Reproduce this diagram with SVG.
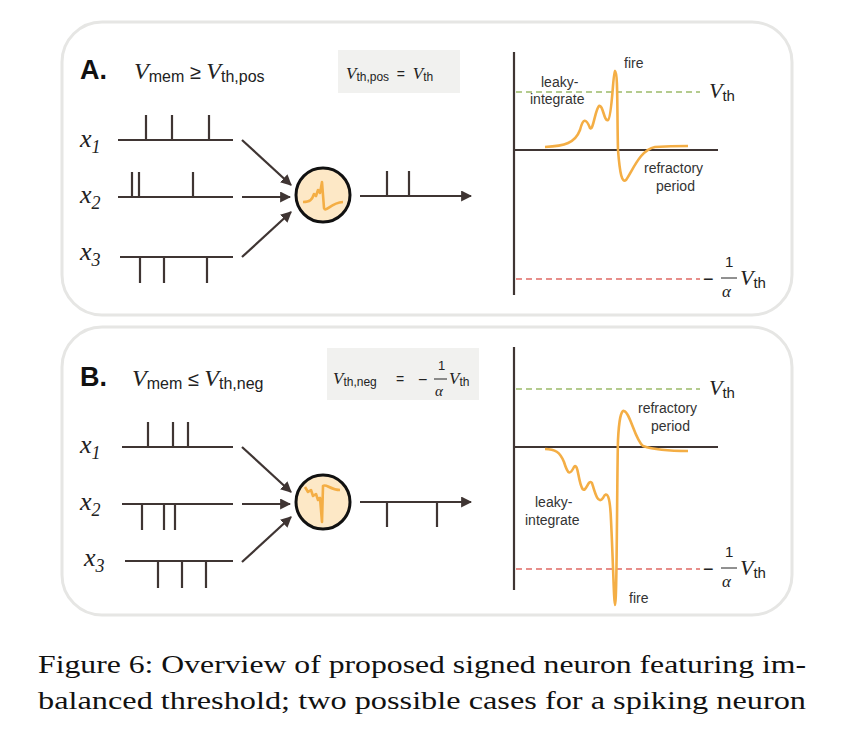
<svg xmlns="http://www.w3.org/2000/svg" width="865" height="745" viewBox="0 0 865 745">
<defs>
<marker id="ah" viewBox="0 0 10 10" refX="9" refY="5" markerWidth="11" markerHeight="11" markerUnits="userSpaceOnUse" orient="auto"><path d="M0,0 L10,5 L0,10 z" fill="#3f3533"/></marker>
<style>
.panel{fill:#fff;stroke:#e6e6e4;stroke-width:3}
.ln{stroke:#3f3533;stroke-width:2.2;fill:none}
.ar{stroke:#3f3533;stroke-width:2.2;fill:none}
.cur{stroke:#f4ae45;stroke-width:2.6;fill:none;stroke-linejoin:round}
.lab{font-size:14px;fill:#333}
.eqbox{fill:#f1f1ef}
.neuron{fill:#fde8c6;stroke:#111;stroke-width:3}
.gd{stroke:#9cba6a;stroke-width:1.6;stroke-dasharray:6 4}
.rd{stroke:#e06a64;stroke-width:1.6;stroke-dasharray:6 4}
</style>
</defs>

<g id="panelA">
<rect class="panel" x="62" y="22" width="730" height="293" rx="40"/>
<text x="80" y="79" font-family="Liberation Sans, Arial, sans-serif" font-size="27" font-weight="bold" fill="#111">A.</text>
<text x="134" y="79" font-family="Liberation Serif, serif" font-style="italic" fill="#222" font-size="24">V<tspan font-family="Liberation Sans, sans-serif" font-style="normal" font-size="16" dy="3">mem</tspan><tspan font-family="Liberation Sans, sans-serif" font-style="normal" font-size="20" dy="-3"> ≥ </tspan>V<tspan font-family="Liberation Sans, sans-serif" font-style="normal" font-size="16" dy="3">th,pos</tspan></text>
<rect class="eqbox" x="338" y="50" width="122" height="43"/>
<text x="346" y="79" font-family="Liberation Serif, serif" font-style="italic" fill="#222" font-size="17">V<tspan font-family="Liberation Sans, sans-serif" font-style="normal" font-size="12" dy="2">th,pos</tspan><tspan font-family="Liberation Sans, sans-serif" font-style="normal" font-size="14" dy="-2" xml:space="preserve">  =  </tspan>V<tspan font-family="Liberation Sans, sans-serif" font-style="normal" font-size="12" dy="2">th</tspan></text>
</g>
<g id="x1A"><text x="80" y="147" font-family="Liberation Serif, serif" font-style="italic" fill="#222" font-size="26">x<tspan font-size="18" dy="6">1</tspan></text>
<path class="ln" d="M118,140 H233 M146,140 V115 M172,140 V115 M209,140 V115"/></g>
<g id="x2A"><text x="80" y="203" font-family="Liberation Serif, serif" font-style="italic" fill="#222" font-size="26">x<tspan font-size="18" dy="6">2</tspan></text>
<path class="ln" d="M118,197 H233 M132,197 V172 M139,197 V172 M193,197 V172"/></g>
<g id="x3A"><text x="80" y="260" font-family="Liberation Serif, serif" font-style="italic" fill="#222" font-size="26">x<tspan font-size="18" dy="6">3</tspan></text>
<path class="ln" d="M120,257 H233 M140,257 V283 M164,257 V283 M207,257 V283"/></g>
<g id="neuronA"><circle class="neuron" cx="323" cy="195" r="27"/>
<path class="cur" stroke-width="2" d="M303,202 C310,202 312,200 314,194 L316,196 L318,190 L320,193 L322,182 L324,208 C326,213 330,203 343,202"/></g>
<g id="outA"><path class="ln" d="M360,196 H387 V171 M387,196 H409 V171 M409,196 H462"/></g>

<g id="graphA" font-family="Liberation Sans, Arial, sans-serif">
<path class="ln" stroke-width="1.8" d="M514,52 V295 M514,150 H718"/>
<line class="gd" x1="516" y1="92" x2="700" y2="92"/>
<line class="rd" x1="516" y1="279" x2="700" y2="279"/>
<path class="cur" d="M545,147 C565,146 575,143 580,130 C583,118 586,118 590,128 C593,132 595,110 599,106 C603,104 604,122 608,120 C612,118 613,72 615,71 C618,72 617,110 618,150 C620,175 622,183 626,180 C633,170 640,150 655,147 C670,146 680,146 688,146"/>
<text x="624" y="68" class="lab">fire</text>
<text x="541" y="87" class="lab">leaky-</text>
<text x="530" y="104" class="lab">integrate</text>
<text x="644" y="173" class="lab">refractory</text>
<text x="656" y="191" class="lab">period</text>
<text x="709" y="98" font-family="Liberation Serif, serif" font-style="italic" fill="#222" font-size="22">V<tspan font-family="Liberation Sans, sans-serif" font-style="normal" font-size="15" dy="3">th</tspan></text>
<text x="703" y="285" font-size="18" fill="#222">−</text>
<text x="725" y="267" font-size="15" fill="#222">1</text>
<line x1="721" y1="278" x2="737" y2="278" stroke="#222" stroke-width="1"/>
<text x="722" y="297" font-family="Liberation Serif, serif" font-style="italic" fill="#222" font-size="17">α</text>
<text x="740" y="285" font-family="Liberation Serif, serif" font-style="italic" fill="#222" font-size="22">V<tspan font-family="Liberation Sans, sans-serif" font-style="normal" font-size="15" dy="3">th</tspan></text>
</g>

<g id="panelB">
<rect class="panel" x="62" y="327" width="730" height="288" rx="40"/>
<text x="80" y="386" font-family="Liberation Sans, Arial, sans-serif" font-size="27" font-weight="bold" fill="#111">B.</text>
<text x="132" y="386" font-family="Liberation Serif, serif" font-style="italic" fill="#222" font-size="24">V<tspan font-family="Liberation Sans, sans-serif" font-style="normal" font-size="16" dy="3">mem</tspan><tspan font-family="Liberation Sans, sans-serif" font-style="normal" font-size="20" dy="-3"> ≤ </tspan>V<tspan font-family="Liberation Sans, sans-serif" font-style="normal" font-size="16" dy="3">th,neg</tspan></text>
<rect class="eqbox" x="327" y="348" width="152" height="52"/>
<text x="333" y="384" font-family="Liberation Serif, serif" font-style="italic" fill="#222" font-size="17">V<tspan font-family="Liberation Sans, sans-serif" font-style="normal" font-size="12" dy="2">th,neg</tspan></text>
<text x="396" y="384" font-family="Liberation Sans, sans-serif" font-size="14" fill="#222">=</text>
<text x="418" y="385" font-family="Liberation Sans, sans-serif" font-size="16" fill="#222">−</text>
<text x="438" y="370" font-family="Liberation Sans, sans-serif" font-size="13" fill="#222">1</text>
<line x1="434" y1="379" x2="447" y2="379" stroke="#222" stroke-width="1"/>
<text x="435" y="396" font-family="Liberation Serif, serif" font-style="italic" fill="#222" font-size="15">α</text>
<text x="449" y="384" font-family="Liberation Serif, serif" font-style="italic" fill="#222" font-size="17">V<tspan font-family="Liberation Sans, sans-serif" font-style="normal" font-size="12" dy="2">th</tspan></text>
</g>
<g id="x1B"><text x="80" y="453" font-family="Liberation Serif, serif" font-style="italic" fill="#222" font-size="26">x<tspan font-size="18" dy="6">1</tspan></text>
<path class="ln" d="M122,447 H233 M148,447 V422 M173,447 V422 M188,447 V422"/></g>
<g id="x2B"><text x="80" y="510" font-family="Liberation Serif, serif" font-style="italic" fill="#222" font-size="26">x<tspan font-size="18" dy="6">2</tspan></text>
<path class="ln" d="M122,504 H233 M142,504 V530 M164,504 V530 M175,504 V530"/></g>
<g id="x3B"><text x="84" y="566" font-family="Liberation Serif, serif" font-style="italic" fill="#222" font-size="26">x<tspan font-size="18" dy="6">3</tspan></text>
<path class="ln" d="M125,561 H233 M158,561 V588 M182,561 V588 M206,561 V588"/></g>
<g id="neuronB"><circle class="neuron" cx="323" cy="502" r="27"/>
<path class="cur" stroke-width="2" d="M305,487 L308,492 L311,490 L313,496 L316,494 L318,500 L320,498 L322,522 L323,486 C326,483 330,490 340,490"/></g>
<g id="outB"><path class="ln" d="M360,502 H437 M387,502 V527 M437,502 V527"/></g>

<g id="graphB" font-family="Liberation Sans, Arial, sans-serif">
<path class="ln" stroke-width="1.8" d="M514,347 V590 M514,447 H718"/>
<line class="gd" x1="516" y1="389" x2="700" y2="389"/>
<line class="rd" x1="516" y1="569" x2="700" y2="569"/>
<path class="cur" d="M545,449 C555,449 560,452 564,462 C568,475 570,475 574,467 C578,462 578,480 582,488 C586,495 588,478 592,483 C595,493 598,505 603,498 C607,490 610,495 611,520 C613,560 614,605 615,605 C617,605 617,470 618,440 C619,420 621,410 624,411 C630,412 635,440 643,446 C655,450 670,451 688,451"/>
<text x="638" y="413" class="lab">refractory</text>
<text x="651" y="431" class="lab">period</text>
<text x="535" y="507" class="lab">leaky-</text>
<text x="525" y="525" class="lab">integrate</text>
<text x="629" y="603" class="lab" fill="#888">fire</text>
<text x="709" y="395" font-family="Liberation Serif, serif" font-style="italic" fill="#222" font-size="22">V<tspan font-family="Liberation Sans, sans-serif" font-style="normal" font-size="15" dy="3">th</tspan></text>
<text x="703" y="575" font-size="18" fill="#222">−</text>
<text x="725" y="557" font-size="15" fill="#222">1</text>
<line x1="721" y1="568" x2="737" y2="568" stroke="#222" stroke-width="1"/>
<text x="722" y="587" font-family="Liberation Serif, serif" font-style="italic" fill="#222" font-size="17">α</text>
<text x="740" y="575" font-family="Liberation Serif, serif" font-style="italic" fill="#222" font-size="22">V<tspan font-family="Liberation Sans, sans-serif" font-style="normal" font-size="15" dy="3">th</tspan></text>
</g>

<g id="connectors">
<path class="ar" marker-end="url(#ah)" d="M242,140 L291,185"/>
<path class="ar" marker-end="url(#ah)" d="M242,197 L290,197"/>
<path class="ar" marker-end="url(#ah)" d="M242,257 L291,212"/>
<path class="ar" marker-end="url(#ah)" d="M409,196 L471,196"/>
<path class="ar" marker-end="url(#ah)" d="M242,447 L291,492"/>
<path class="ar" marker-end="url(#ah)" d="M242,504 L290,504"/>
<path class="ar" marker-end="url(#ah)" d="M242,562 L291,517"/>
<path class="ar" marker-end="url(#ah)" d="M437,502 L471,502"/>
</g>

<g id="caption" font-family="Liberation Serif, Times New Roman, serif" font-size="26" fill="#111">
<text x="38" y="673" textLength="768" lengthAdjust="spacingAndGlyphs">Figure 6: Overview of proposed signed neuron featuring im-</text>
<text x="38" y="709" textLength="768" lengthAdjust="spacingAndGlyphs">balanced threshold; two possible cases for a spiking neuron</text>
</g>
</svg>
